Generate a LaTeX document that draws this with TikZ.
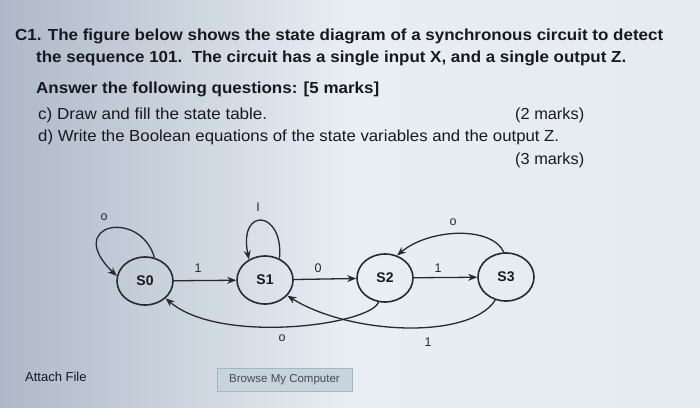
\documentclass[tikz,border=0pt]{standalone}
\usepackage{fontspec}
\usepackage{graphicx}
\setmainfont{Liberation Sans}
\usetikzlibrary{shapes.geometric,arrows.meta}
\definecolor{inkc}{HTML}{17191F}
\definecolor{linec}{HTML}{262A30}
\definecolor{bgl}{HTML}{E4EBF1}
\definecolor{bgd}{HTML}{AEB8C8}
\definecolor{btnf}{HTML}{C6D4DD}
\definecolor{btnd}{HTML}{A6B5C2}
\definecolor{btnt}{HTML}{444C56}
\newcommand{\wline}[2]{\resizebox{#1}{\height}{#2}}
\begin{document}
\begin{tikzpicture}[x=1pt,y=-1pt,
  txt/.style={anchor=base west, inner sep=0pt, text=inkc, font=\fontsize{16}{18}\selectfont},
  txtb/.style={txt, font=\fontsize{16}{18}\selectfont\bfseries},
  st/.style={ellipse, draw=linec, line width=1.6pt, minimum width=56pt, minimum height=48pt, inner sep=0pt, text=inkc, font=\fontsize{14}{16}\selectfont\bfseries},
  tr/.style={draw=linec, line width=1.3pt, -{Stealth[length=9pt,width=7pt]}},
  lbl/.style={text=linec, inner sep=1pt, font=\fontsize{12.5}{14}\selectfont}]
\useasboundingbox (0,0) rectangle (700,407);
\shade[left color=bgd, right color=bgl, middle color=bgl!85!white] (0,0) rectangle (700,407);
% question text
\node[txtb] (l1) at (15,40) {\wline{648pt}{C1. The figure below shows the state diagram of a synchronous circuit to detect}};
\node[txtb] (l2) at (36,62) {\wline{590pt}{the sequence 101.\ \ The circuit has a single input X, and a single output Z.}};
\node[txtb] (l3) at (36,93) {\wline{343pt}{Answer the following questions: [5 marks]}};
\node[txt] (l4) at (38,119) {\wline{229pt}{c) Draw and fill the state table.}};
\node[txt] (m2) at (515,119) {\wline{69pt}{(2 marks)}};
\node[txt] (l5) at (38,141) {\wline{521pt}{d) Write the Boolean equations of the state variables and the output Z.}};
\node[txt] (m3) at (515,164) {\wline{69pt}{(3 marks)}};
% states
\node[st] (s0) at (145,281) {S0};
\node[st] (s1) at (265,280) {S1};
\node[st] (s2) at (385,278) {S2};
\node[st] (s3) at (506,277) {S3};
% transitions
\draw[tr] (s0.68) .. controls (140,208) and (63,224) .. (s0.170);
\draw[tr] (s1.56) .. controls (284,210) and (238,206) .. (s1.128);
\draw[tr] (s0) -- (s1);
\draw[tr] (s1) -- (s2);
\draw[tr] (s2) -- (s3);
\draw[tr] (s3.95) .. controls (492,226) and (430,228) .. (s2.62);
\draw[tr] (s2.255) .. controls (370,325) and (220,345) .. (s0.-40);
\draw[tr] (s3.245) .. controls (470,340) and (350,335) .. (s1.-35);
% labels
\node[lbl] (a0) at (104,217) {o};
\node[lbl] (a1) at (258,207) {I};
\node[lbl] (a2) at (198,268) {1};
\node[lbl] (a3) at (318,268) {0};
\node[lbl] (a4) at (438,268) {1};
\node[lbl] (a5) at (453,222) {o};
\node[lbl] (a6) at (282,338) {o};
\node[lbl] (a7) at (428,342) {1};
% footer
\node[anchor=west, inner sep=0pt, text=inkc, font=\fontsize{13}{15}\selectfont] (att) at (25,377) {Attach File};
\node[draw=btnd, fill=btnf, minimum width=135pt, minimum height=23pt, inner sep=0pt, text=btnt, font=\fontsize{11.5}{13}\selectfont] (btn) at (284.5,380) {Browse My Computer};
\end{tikzpicture}
\end{document}
